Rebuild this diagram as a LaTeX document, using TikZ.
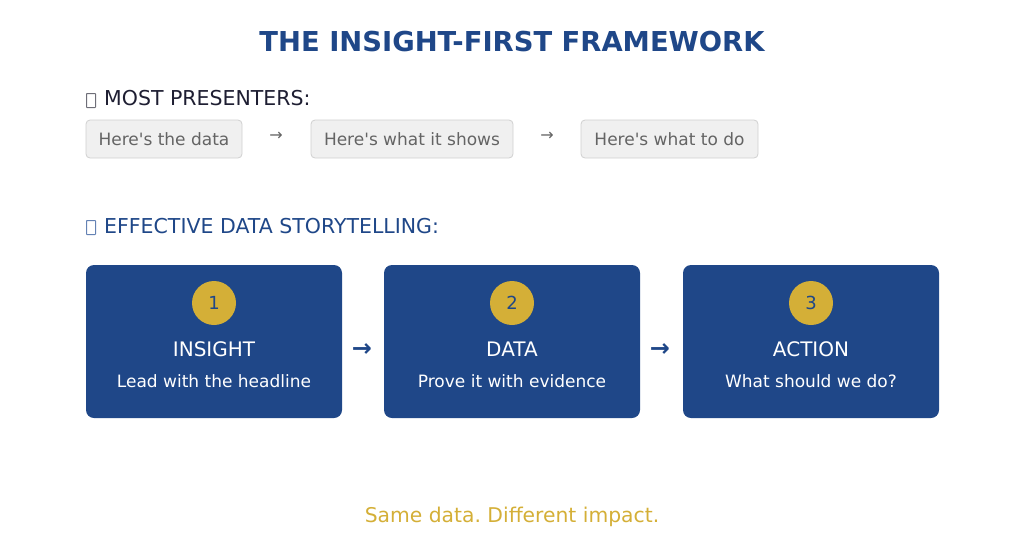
\documentclass[tikz,border=0pt]{standalone}
\usepackage{fontspec}
\setmainfont{DejaVu Sans}
\definecolor{navy}{RGB}{31,71,136}
\definecolor{gold}{RGB}{212,175,55}
\definecolor{grayfill}{RGB}{240,240,240}
\definecolor{grayline}{RGB}{208,208,208}
\definecolor{graytext}{RGB}{100,100,100}
\definecolor{darktext}{RGB}{30,30,50}
\definecolor{tofugray}{RGB}{110,110,120}
\definecolor{tofublue}{RGB}{100,130,180}
\tikzset{
  graybox/.style={draw=grayline, fill=grayfill, rounded corners=4pt, line width=0.8pt,
    minimum height=38pt, inner sep=0pt, text=graytext, font=\fontsize{17}{19}\selectfont},
  bluebox/.style={fill=navy, rounded corners=8pt, minimum width=256pt, minimum height=153pt, inner sep=0pt},
  numcirc/.style={circle, fill=gold, minimum size=44pt, inner sep=0pt, text=navy, font=\fontsize{18}{20}\selectfont},
  steptitle/.style={text=white, font=\fontsize{20}{22}\selectfont},
  stepsub/.style={text=white, font=\fontsize{17}{19}\selectfont},
  grayarrow/.style={text=graytext, font=\fontsize{16}{18}\selectfont},
  bluearrow/.style={text=navy, font=\bfseries\fontsize{24}{26}\selectfont},
  heading/.style={anchor=west, inner sep=0pt, font=\fontsize{20.5}{22}\selectfont},
  tofu/.style={draw, line width=1pt, rounded corners=0.5pt},
}
\begin{document}
\begin{tikzpicture}[x=1pt,y=-1pt]
\frenchspacing
\useasboundingbox (0,0) rectangle (1024,555);
\node[text=navy, font=\bfseries\fontsize{27.4}{30}\selectfont] (title) at (512,42) {THE INSIGHT-FIRST FRAMEWORK};

\draw[tofu, tofugray] (86.5,93.5) rectangle (95.5,107.5);
\node[heading, text=darktext] (h1) at (104,98) {MOST PRESENTERS:};
\node[graybox, minimum width=156pt] (g1) at (164,139) {Here\textquotesingle s the data};
\node[graybox, minimum width=202pt] (g2) at (412,139) {Here\textquotesingle s what it shows};
\node[graybox, minimum width=177pt] (g3) at (669.5,139) {Here\textquotesingle s what to do};
\node[grayarrow] (ga1) at (276,136) {→};
\node[grayarrow] (ga2) at (547,136) {→};

\draw[tofu, tofublue] (86.5,220.5) rectangle (95.5,234.5);
\node[heading, text=navy] (h2) at (104,226) {EFFECTIVE DATA STORYTELLING:};

\foreach \n/\cx/\num/\t/\s in {b1/214/1/INSIGHT/Lead with the headline, b2/512/2/DATA/Prove it with evidence, b3/811/3/ACTION/What should we do?}{
  \node[bluebox] (\n) at (\cx,341.5) {};
  \node[numcirc] (\n c) at (\cx,303) {\num};
  \node[steptitle] (\n t) at (\cx,349) {\t};
  \node[stepsub] (\n s) at (\cx,381) {\s};
}
\node[bluearrow] (ba1) at (362,350) {→};
\node[bluearrow] (ba2) at (660,350) {→};

\node[text=gold, font=\fontsize{20.3}{22}\selectfont] (foot) at (512,517) {Same data. Different impact.};
\end{tikzpicture}
\end{document}
